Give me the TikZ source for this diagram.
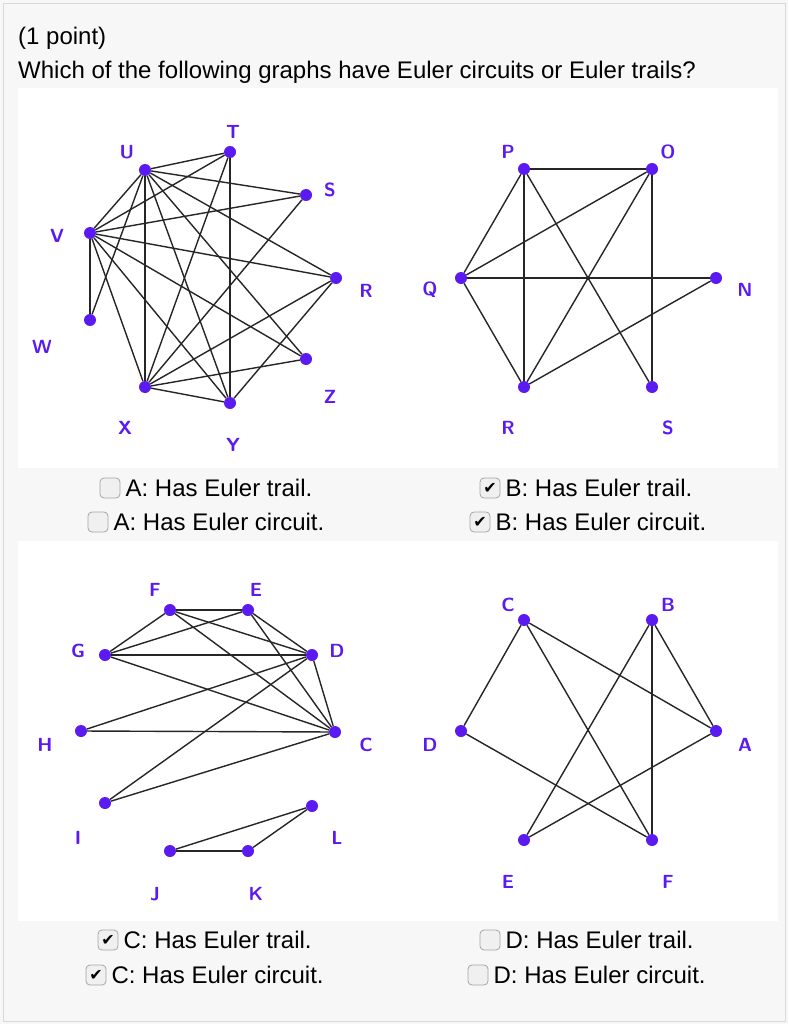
\documentclass[tikz,border=0pt]{standalone}
\usepackage{fontspec}
\setmainfont{Liberation Sans}
\newfontfamily\dv{DejaVu Sans}
\begin{document}
\begin{tikzpicture}[x=1pt,y=-1pt,
 vx/.style={circle,fill=vblue,inner sep=0pt,minimum size=12pt},
 vl/.style={text=vblue,font=\sffamily\bfseries\fontsize{19}{19}\selectfont},
 ed/.style={draw=black!85,line width=1.4pt},
 txt/.style={anchor=west,font=\fontsize{24}{28}\selectfont,inner sep=0pt},
 cb/.style={draw=gray!70,fill=gray!12,rounded corners=4pt,minimum size=20pt,inner sep=0pt,line width=0.8pt}]
\definecolor{vblue}{HTML}{5A1AF0}
\fill[gray!6] (0,0) rectangle (788,1024);
\draw[gray!30] (3,3) rectangle (785,1021);
\fill[white] (18,88) rectangle (778,468);
\fill[white] (18,541) rectangle (778,921);
\node[txt] (t1) at (18,38) {(1 point)};
\node[txt] (t2) at (18,72) {Which of the following graphs have Euler circuits or Euler trails?};
% Graph A
\foreach \n/\x/\y/\lx/\ly in {U/145/170/127/152, T/230/152/233/132, S/306/195/330/190, R/336/278/366/291, Z/306/359/330/397, Y/230/403/233/445, X/145/387/125/428, W/90/320/42/347, V/90/233/57/236}{
 \node[vx] (a\n) at (\x,\y) {}; \node[vl] (al\n) at (\lx,\ly) {\n};}
\foreach \a/\b in {U/T,U/S,U/R,U/Z,U/Y,U/X,U/V,U/W,V/T,V/S,V/R,V/Z,V/Y,V/X,V/W,T/Y,T/X,S/X,R/X,R/Y,Z/X,Y/X}
 \draw[ed] (a\a) -- (a\b);
% Graph B
\foreach \n/\x/\y/\lx/\ly in {P/524/169/508/152, O/652/169/668/152, Q/461/278/430/290, N/716/278/745/290, R/524/387/508/428, S/652/387/668/428}{
 \node[vx] (b\n) at (\x,\y) {}; \node[vl] (bl\n) at (\lx,\ly) {\n};}
\foreach \a/\b in {P/O,P/Q,P/R,P/S,O/Q,O/R,O/S,Q/N,Q/R,R/N}
 \draw[ed] (b\a) -- (b\b);
% Graph C
\foreach \n/\x/\y/\lx/\ly in {F/170/610/155/590, E/248/610/256/590, G/105/655/78/651, D/312/655/337/651, H/81/731/45/745, C/335/732/366/745, I/105/803/78/838, L/312/806/337/838, J/170/851/155/894, K/248/851/256/894}{
 \node[vx] (c\n) at (\x,\y) {}; \node[vl] (cl\n) at (\lx,\ly) {\n};}
\foreach \a/\b in {F/E,F/G,F/D,F/C,E/G,E/D,E/C,G/D,G/C,H/D,H/C,I/D,I/C,D/C,J/K,J/L,K/L}
 \draw[ed] (c\a) -- (c\b);
% Graph D
\foreach \n/\x/\y/\lx/\ly in {C/524/620/508/605, B/652/620/668/605, D/461/731/430/745, A/716/731/745/745, E/524/840/508/882, F/652/840/668/882}{
 \node[vx] (d\n) at (\x,\y) {}; \node[vl] (dl\n) at (\lx,\ly) {\n};}
\foreach \a/\b in {C/D,C/A,C/F,B/E,B/F,B/A,D/F,A/E}
 \draw[ed] (d\a) -- (d\b);
% checkboxes
\foreach \k/\x/\y/\t/\c in {k1/110/488/{A: Has Euler trail.}/0, k2/98/522/{A: Has Euler circuit.}/0,
  k3/490/488/{B: Has Euler trail.}/1, k4/480/522/{B: Has Euler circuit.}/1,
  k5/108/940/{C: Has Euler trail.}/1, k6/96/975/{C: Has Euler circuit.}/1,
  k7/490/940/{D: Has Euler trail.}/0, k8/478/975/{D: Has Euler circuit.}/0}{
 \node[cb] (\k) at (\x,\y) {\ifnum\c=1 {\dv\fontsize{16}{16}\selectfont ✔}\fi};
 \node[txt] (\k t) at ([xshift=5pt]\k.east) {\t};}
\end{tikzpicture}
\end{document}
